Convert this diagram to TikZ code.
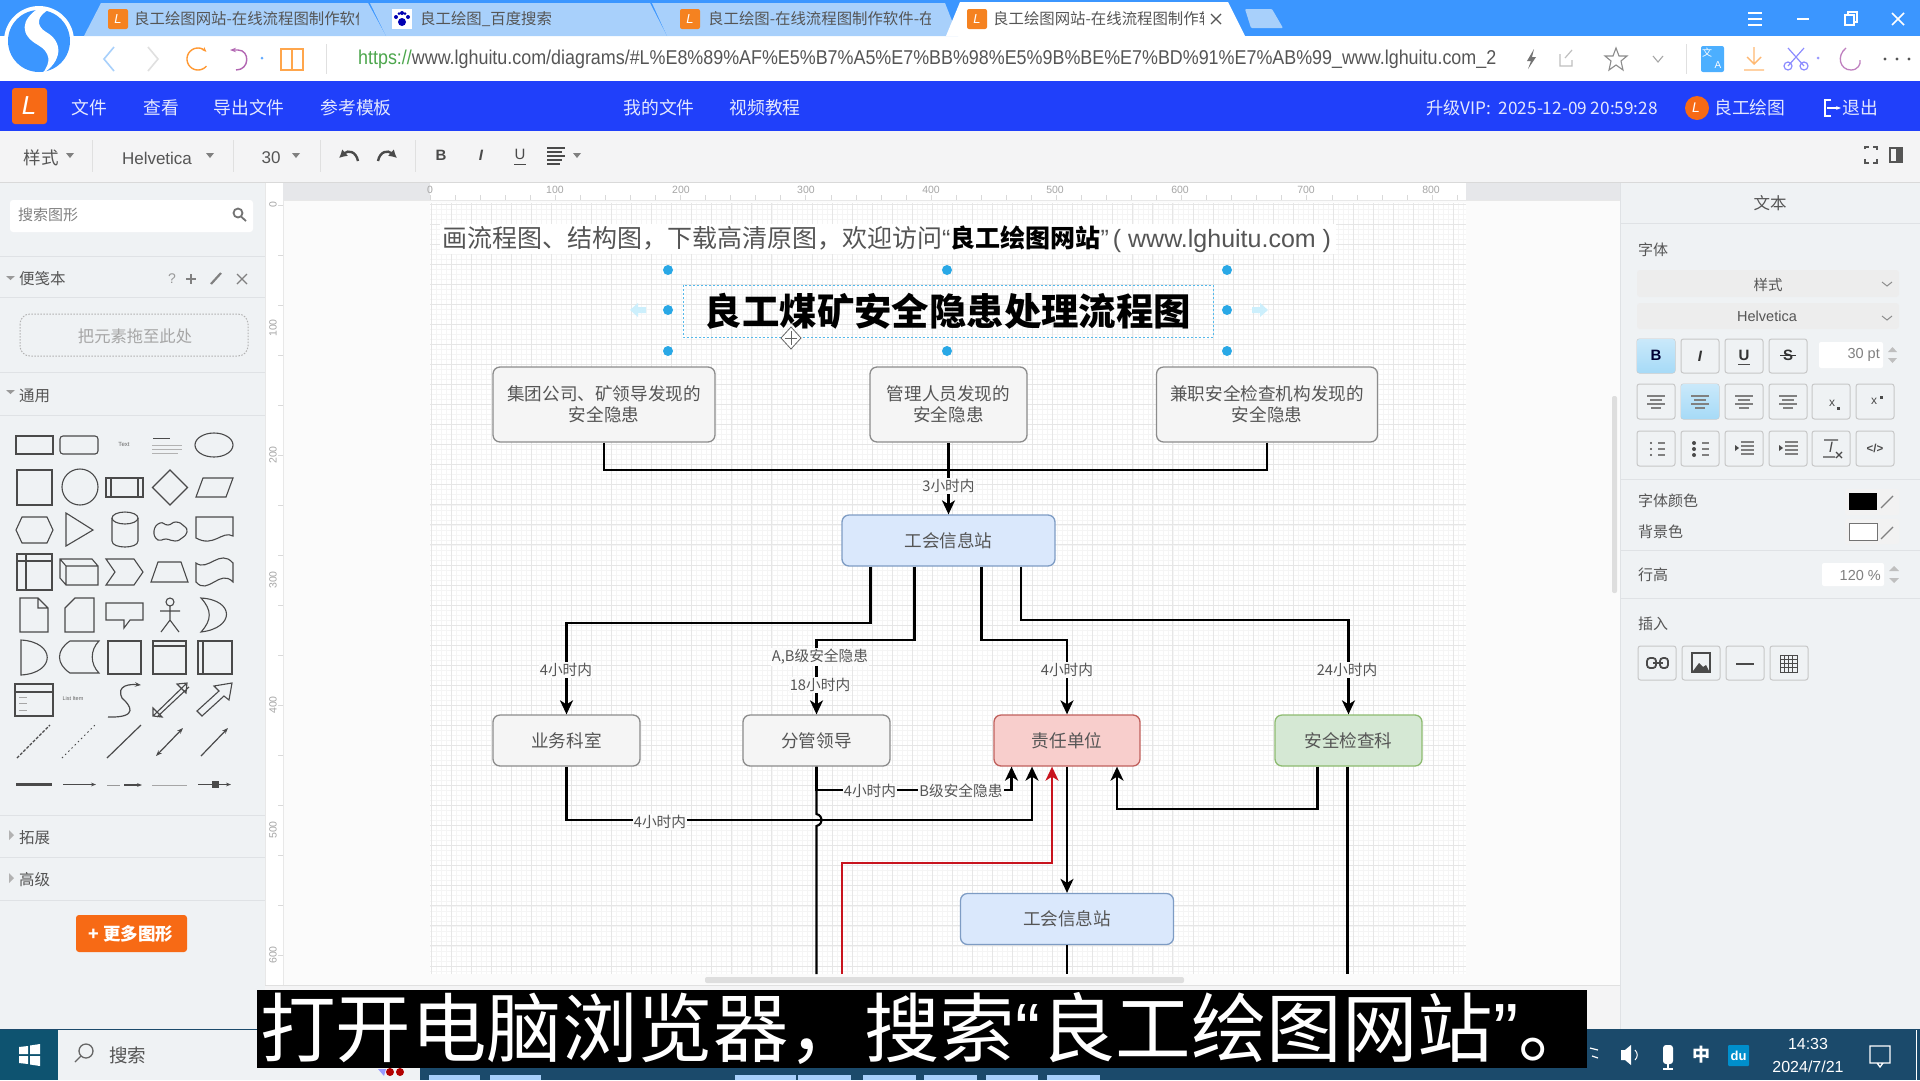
\documentclass[tikz,border=0pt]{standalone}
\usepackage{fontspec}
\setmainfont{Noto Sans CJK SC}
\newfontfamily\lat{Liberation Sans}
\usetikzlibrary{arrows.meta,shapes.geometric,calc}
\definecolor{panelbg}{HTML}{EFF2F4}
\definecolor{canvasbg}{HTML}{FBFBFB}
\definecolor{tabstrip}{HTML}{3B96FF}
\definecolor{tabfill}{HTML}{A8D0FB}
\definecolor{navblue}{HTML}{2040FA}
\definecolor{barbg}{HTML}{F4F4F5}
\definecolor{rulergray}{HTML}{E6E7EA}
\definecolor{uitext}{HTML}{555555}
\definecolor{sep}{HTML}{DFE2E5}
\definecolor{orangeui}{HTML}{F76A15}
\definecolor{logoorange}{HTML}{F58220}
\definecolor{taskbar}{HTML}{1B4A6B}
\definecolor{startbg}{HTML}{0E5370}
\definecolor{handle}{HTML}{29A8E6}
\definecolor{gridmajor}{HTML}{E6E6E6}
\definecolor{gridminor}{HTML}{F5F5F5}
\definecolor{btnblue}{HTML}{A6DAF7}
\definecolor{iconc}{HTML}{4A4A4A}
\definecolor{grayfill}{HTML}{F5F5F5}
\definecolor{grayline}{HTML}{8C8C8C}
\definecolor{bluefill}{HTML}{DAE8FC}
\definecolor{blueline}{HTML}{7E9CC4}
\definecolor{redfill}{HTML}{F8CECC}
\definecolor{redline}{HTML}{C0605C}
\definecolor{greenfill}{HTML}{D5E8D4}
\definecolor{greenline}{HTML}{8DBB70}
\definecolor{redarrow}{HTML}{C8141E}
\definecolor{boxtext}{HTML}{555555}
\newcount\uin
\newcommand\T[5][]{\global\advance\uin by 1 \node[inner sep=0pt,text=#4,#1] (ui\the\uin) at (#2) {\fontsize{#3}{#3}\selectfont #5};}
\tikzset{
 x=1pt,y=-1pt,
 ico/.style={draw=iconc,line width=1.1pt,fill=none},
 btn/.style={draw=black!22,fill=panelbg,rounded corners=2.5pt,line width=1pt},
 flowbox/.style={rectangle,rounded corners=7pt,line width=1.3pt,inner sep=0pt,align=center,text=boxtext,font=\fontsize{17.6}{21}\selectfont},
 graybox/.style={flowbox,draw=grayline,fill=grayfill},
 bluebox/.style={flowbox,draw=blueline,fill=bluefill},
 redbox/.style={flowbox,draw=redline,fill=redfill},
 greenbox/.style={flowbox,draw=greenline,fill=greenfill},
 flow/.style={line width=2.1pt,black},
 flowtip/.style={flow,-{Stealth[length=14pt,width=13pt,inset=4pt]}},
 edgelabel/.style={fill=canvasbg,inner sep=1pt,text=boxtext,font=\fontsize{14.7}{15}\selectfont},
 dot/.style={circle,fill=handle,inner sep=0pt,minimum size=10pt},
}
\begin{document}
\begin{tikzpicture}
\useasboundingbox (0,0) rectangle (1920,1080);
% --- base areas
\fill[white] (0,0) rectangle (1920,1080);
\fill[tabstrip] (0,0) rectangle (1920,36);
\fill[white] (0,36) rectangle (1920,80);
\fill[navblue] (0,81) rectangle (1920,131);
\fill[barbg] (0,131) rectangle (1920,183);
\fill[panelbg] (0,183) rectangle (265,1030);
\fill[panelbg] (1620,183) rectangle (1920,1030);
\fill[canvasbg] (265,183) rectangle (1620,1030);
\fill[barbg] (265,985) rectangle (1620,1030);
\draw[black!12,line width=1pt] (265,985) -- (1620,985);
\draw[black!15,line width=1pt] (0,182) -- (1920,182);
% --- tabs
\fill[tabfill] (84,36) -- (101,3) -- (368,3) -- (386,36) -- cycle;
\fill[tabfill] (386,36) -- (370,3) -- (650,3) -- (667,36) -- cycle;
\fill[tabfill] (667,36) -- (652,3) -- (945,3) -- (958,36) -- cycle;
\fill[white] (946,36) -- (960,2) -- (1228,2) -- (1245,36) -- cycle;
\fill[tabfill,rounded corners=1pt] (1245,9) -- (1272,9) -- (1283,28) -- (1251,28) -- cycle;
\foreach \ix in {118,690,977}{\fill[logoorange,rounded corners=2pt] (\ix-10,9) rectangle (\ix+10,29);
 \T{\ix,19}{13}{white}{\lat\itshape L}}
\fill[white] (392,9) rectangle (412,29);
\fill[blue!70!black] (402,22) circle (4pt) (396,17) circle (2pt) (402,13) circle (2pt) (408,17) circle (2pt) (399,13.5) circle (1.5pt) (405,13.5) circle (1.5pt);
\begin{scope}
\clip (134,5) rectangle (358,34);
\T[anchor=west]{134,19}{15.4}{uitext}{良工绘图网站-在线流程图制作软件}
\end{scope}
\T[anchor=west]{420,19}{15.4}{uitext}{良工绘图\_百度搜索}
\begin{scope}
\clip (708,5) rectangle (930,34);
\T[anchor=west]{708,19}{15.4}{uitext}{良工绘图-在线流程图制作软件-在}
\end{scope}
\begin{scope}
\clip (993,5) rectangle (1203,34);
\T[anchor=west]{993,19}{15.4}{uitext}{良工绘图网站-在线流程图制作软件}
\end{scope}
\draw[uitext,line width=1.3pt] (1211,14) -- (1221,24) (1221,14) -- (1211,24);
\draw[white,line width=1.6pt] (1748,13) -- (1762,13) (1748,19) -- (1762,19) (1748,25) -- (1762,25);
\draw[white,line width=1.6pt] (1797,19) -- (1809,19);
\draw[white,line width=1.4pt] (1845,15) rectangle (1854,25) (1848,15) -- (1848,12) -- (1857,12) -- (1857,22) -- (1854,22);
\draw[white,line width=1.5pt] (1892,13) -- (1904,25) (1904,13) -- (1892,25);
% --- browser logo
\fill[white] (39,41) circle (35pt);
\fill[tabstrip] (39,41) circle (31pt);
\fill[white] (39,8) .. controls (20,20) and (20,35) .. (38,45) .. controls (50,52) and (52,62) .. (42,74) .. controls (62,62) and (64,42) .. (46,32) .. controls (36,26) and (36,16) .. (50,9) -- cycle;
% --- browser toolbar
\draw[tabfill,line width=1.6pt] (114,47) -- (104,59) -- (114,71);
\draw[black!12,line width=1.6pt] (148,47) -- (158,59) -- (148,71);
\draw[orange!80,line width=1.4pt,-{Stealth[length=5pt]}] plot[domain=40:320,samples=30] ({198+11*cos(\x)},{59+11*sin(\x)});
\draw[violet!60,line width=1.4pt,{Stealth[length=6pt]}-] (230,50) -- (238,50) .. controls (250,50) and (250,70) .. (236,70);
\fill[tabstrip!80] (262,58) circle (1.5pt);
\draw[orange!70,line width=1.3pt] (281,49) rectangle (292,70) (292,49) rectangle (303,70);
\draw[black!12,line width=1pt] (326,44) -- (326,74);
\begin{scope}
\clip (358,40) rectangle (1499,78);
\T[anchor=west,xscale=.895]{358,59}{20}{uitext}{\lat\textcolor{green!50!black!70}{https://}www.lghuitu.com/diagrams/\#L\%E8\%89\%AF\%E5\%B7\%A5\%E7\%BB\%98\%E5\%9B\%BE\%E7\%BD\%91\%E7\%AB\%99\_www.lghuitu.com\_2}
\end{scope}
\fill[black!55] (1534,49) -- (1527,61) -- (1531,61) -- (1528,69) -- (1536,57) -- (1532,57) -- cycle;
\draw[black!25,line width=1.2pt] (1560,54) -- (1560,66) -- (1572,66) -- (1572,60) (1565,58) -- (1572,50);
\draw[black!45,line width=1.1pt] (1616,48) -- (1619,56) -- (1627,56) -- (1621,61) -- (1623,70) -- (1616,65) -- (1609,70) -- (1611,61) -- (1605,56) -- (1613,56) -- cycle;
\draw[black!35,line width=1.1pt] (1653,56) -- (1658,62) -- (1663,56);
\draw[black!12,line width=1pt] (1686,44) -- (1686,74);
\fill[blue!45!cyan!70,rounded corners=2pt] (1701,46) rectangle (1724,72);
\T{1707,53}{10}{white}{文}
\T{1718,65}{10}{white}{\lat A}
\draw[orange!55,line width=1.4pt] (1754,47) -- (1754,63) (1747,57) -- (1754,64) -- (1761,57) (1744,70) -- (1764,70);
\draw[blue!45,line width=1.2pt] (1788,48) -- (1804,66) (1804,48) -- (1788,66) (1788,66) circle (4pt) (1804,66) circle (4pt);
\fill[blue!40] (1818,58) circle (1.5pt);
\draw[violet!50,line width=1.3pt] (1846,48) .. controls (1836,56) and (1840,70) .. (1851,70) .. controls (1858,70) and (1861,64) .. (1860,60);
\fill[uitext] (1885,59) circle (1.6pt) (1897,59) circle (1.6pt) (1909,59) circle (1.6pt);
% --- nav bar
\fill[orangeui,rounded corners=3pt] (12,88) rectangle (47,124);
\T{29,106}{26}{white}{\lat\itshape L}
\T{89,108}{17.8}{white!88!navblue}{文件}
\T{161,108}{17.8}{white!88!navblue}{查看}
\T{249,108}{17.8}{white!88!navblue}{导出文件}
\T{356,108}{17.8}{white!88!navblue}{参考模板}
\T{659,108}{17.8}{white!88!navblue}{我的文件}
\T{765,108}{17.8}{white!88!navblue}{视频教程}
\T[anchor=east]{1658,108}{17.2}{white!88!navblue}{升级VIP:\ \ 2025-12-09 20:59:28}
\fill[orangeui] (1697,108) circle (12pt);
\T{1696,108}{14}{white}{\lat\itshape L}
\T[anchor=west]{1714,108}{17.8}{white!88!navblue}{良工绘图}
\draw[white,line width=1.3pt] (1831,100) -- (1825,100) -- (1825,116) -- (1831,116);
\draw[white,line width=1.3pt,-{Stealth[length=5pt]}] (1827,108) -- (1841,108);
\T[anchor=west]{1842,108}{17.8}{white!88!navblue}{退出}
% --- format toolbar
\T{41,158}{17.5}{uitext}{样式}
\T{157,158}{17}{uitext}{\lat Helvetica}
\T{271,158}{17}{uitext}{\lat 30}
\foreach \ix in {70,210,296,577}{\fill[black!50] (\ix-4,153) -- (\ix+4,153) -- (\ix,158) -- cycle;}
\foreach \ix in {92,233,320,415}{\draw[black!12,line width=1pt] (\ix,140) -- (\ix,172);}
\draw[iconc,line width=2.4pt,-{Latex[length=8pt,width=9pt]}] (358,161) .. controls (356,151) and (348,150) .. (339,158);
\draw[iconc,line width=2.4pt,-{Latex[length=8pt,width=9pt]}] (378,161) .. controls (380,151) and (388,150) .. (397,158);
\T{441,155}{15}{iconc}{\lat\bfseries B}
\T{481,155}{15}{iconc}{\lat\itshape\bfseries I}
\T{520,154}{15}{iconc}{\lat U}
\draw[iconc,line width=1pt] (514,164) -- (526,164);
\draw[iconc,line width=1.2pt] (547,148) -- (565,148) (547,152) -- (562,152) (547,156) -- (565,156) (547,160) -- (562,160) (547,164) -- (560,164);
\draw[uitext,line width=1.3pt] (1865,149) -- (1865,147) -- (1869,147) (1873,147) -- (1877,147) -- (1877,150) (1877,159) -- (1877,163) -- (1873,163) (1869,163) -- (1865,163) -- (1865,159);
\draw[uitext,line width=1.3pt] (1890,148) rectangle (1902,162);
\fill[uitext] (1896,148) rectangle (1902,162);
% --- rulers
\fill[rulergray] (283,183) rectangle (1620,200);
\fill[white] (430,183) rectangle (1466,200);
\fill[white] (265,183) rectangle (283,985);
\draw[black!9,line width=.8pt] (283,200) -- (1620,200) (283,200) -- (283,985) (265,183) -- (265,985);
\foreach \k in {0,1,...,41}{\draw[black!15,line width=.6pt] ({430+25.05*\k},195) -- ({430+25.05*\k},200);}
\foreach \k in {0,...,15}{\draw[black!15,line width=.6pt] (278,{205+50*\k}) -- (283,{205+50*\k});}
\foreach \v/\ix in {0/430,100/555,200/681,300/806,400/931,500/1055,600/1180,700/1306,800/1431}{\T{\ix,190}{10.5}{black!35}{\lat \v}}
\foreach \v/\iy in {0/205,100/328,200/455,300/580,400/705,500/830,600/955}{\T[rotate=90]{273,\iy}{10.5}{black!35}{\lat \v}}
% --- page + grid
\fill[white] (430,203) rectangle (1466,974);
\begin{scope}
\clip (430,203) rectangle (1466,974);
\foreach \k in {0,...,210}{\draw[gridminor,line width=.5pt] ({431+5.0125*\k},203) -- ({431+5.0125*\k},974);}
\foreach \k in {0,...,155}{\draw[gridminor,line width=.5pt] (430,{204+5.0125*\k}) -- (1466,{204+5.0125*\k});}
\foreach \k in {0,...,52}{\draw[gridmajor,line width=.8pt] ({431+20.05*\k},203) -- ({431+20.05*\k},974);}
\foreach \k in {0,...,39}{\draw[gridmajor,line width=.8pt] (430,{204+20.05*\k}) -- (1466,{204+20.05*\k});}
\end{scope}
\fill[black!13,rounded corners=2pt] (705,977) rectangle (1184,983);
\fill[black!13,rounded corners=2pt] (1612,396) rectangle (1617,593);
% --- banner text
\fill[white] (440,224) rectangle (1336,254);
\node[inner sep=0pt,anchor=west,text=boxtext] (banner) at (442,239) {\fontsize{25}{25}\selectfont 画流程图、结构图，下载高清原图，欢迎访问{\lat “}\textcolor{black}{\bfseries 良工绘图网站}{\lat ”\hspace{4pt}(\hspace{7pt}www.lghuitu.com\hspace{7pt})}};
% --- title + selection
\draw[handle!80,line width=1pt,dash pattern=on 2pt off 2pt] (683,285) rectangle (1213,337);
\node[inner sep=0pt,text=black] (title) at (948,311) {\fontsize{37.4}{38}\selectfont\bfseries 良工煤矿安全隐患处理流程图};
\foreach \ix/\nm in {668/a,947/b,1227/c}{\foreach \iy/\mm in {270/t,310/m,351/b}{\ifnum\ix=947 \ifnum\iy=310 \else \node[dot] (h\nm\mm) at (\ix,\iy) {}; \fi \else \node[dot] (h\nm\mm) at (\ix,\iy) {}; \fi}}
\fill[cyan!20] (630,310) -- (638,303) -- (638,307) -- (646,307) -- (646,313) -- (638,313) -- (638,317) -- cycle;
\fill[cyan!20] (1268,310) -- (1260,303) -- (1260,307) -- (1252,307) -- (1252,313) -- (1260,313) -- (1260,317) -- cycle;
\draw[black!60,fill=white,line width=.8pt] (791,327) -- (801,338) -- (791,349) -- (781,338) -- cycle;
\draw[black!60,line width=.8pt] (791,331) -- (791,345) (785,338) -- (797,338);
% --- flowchart nodes
\node[graybox,minimum width=222pt,minimum height=75pt] (b1) at (604,404.5) {集团公司、矿领导发现的\\安全隐患};
\node[graybox,minimum width=157pt,minimum height=75pt] (b2) at (948.5,404.5) {管理人员发现的\\安全隐患};
\node[graybox,minimum width=221pt,minimum height=75pt] (b3) at (1267,404.5) {兼职安全检查机构发现的\\安全隐患};
\node[bluebox,minimum width=213pt,minimum height=51pt] (info1) at (948.5,540.5) {工会信息站};
\node[graybox,minimum width=147pt,minimum height=51pt] (dept) at (566.5,740.5) {业务科室};
\node[graybox,minimum width=147pt,minimum height=51pt] (lead) at (816.5,740.5) {分管领导};
\node[redbox,minimum width=146pt,minimum height=51pt] (resp) at (1067,740.5) {责任单位};
\node[greenbox,minimum width=147pt,minimum height=51pt] (safe) at (1348.5,740.5) {安全检查科};
\node[bluebox,minimum width=213pt,minimum height=51pt] (info2) at (1067,919) {工会信息站};
% --- connector waypoints
\coordinate (j1) at (948.5,470);
\coordinate (c1) at (870.5,623);
\coordinate (c2) at (914.5,640);
\coordinate (c3) at (981.5,640);
\coordinate (c4) at (1021,620);
\coordinate (xa) at (1011.5,790);
\coordinate (xb) at (1032,820);
\coordinate (xc) at (1052,863);
\coordinate (xd) at (1117,809);
\coordinate (xe) at (1317.5,809);
\coordinate (e1) at (816.5,974);
\coordinate (e2) at (842,974);
\coordinate (e3) at (1067,974);
\coordinate (e4) at (1347.5,974);
\coordinate (ja) at (816.5,814);
\coordinate (jb) at (816.5,826);
% --- connectors
\draw[flow] (b1.south) |- (j1);
\draw[flow] (b3.south) |- (j1);
\draw[flow] (b2.south) -- (j1);
\draw[flowtip] (j1) -- (info1.north);
\draw[flowtip] (info1.south -| c1) -- (c1) -| (dept.north);
\draw[flowtip] (info1.south -| c2) -- (c2) -| (lead.north);
\draw[flowtip] (info1.south -| c3) -- (c3) -| (resp.north);
\draw[flowtip] (info1.south -| c4) -- (c4) -| (safe.north);
\draw[flowtip] (lead.south) |- (xa) -- (resp.south -| xa);
\draw[flowtip] (dept.south) |- (xb) -- (resp.south -| xb);
\draw[flow] (lead.south) -- (ja) .. controls ($(ja)+(7,2)$) and ($(jb)+(7,-2)$) .. (jb) -- (e1);
\draw[flowtip,redarrow] (e2) |- (xc) -- (resp.south -| xc);
\draw[flowtip] (resp.south) -- (info2.north);
\draw[flow] (info2.south) -- (e3);
\draw[flow] (safe.south -| e4) -- (e4);
\draw[flowtip] (safe.south -| xe) -- (xe) -| (resp.south -| xd);
% --- connector labels
\node[edgelabel] (l0) at (948.5,486) {3小时内};
\node[edgelabel] (l1) at (566,670) {4小时内};
\node[edgelabel] (l2) at (820,657) {A,B级安全隐患};
\node[edgelabel] (l3) at (820,685) {18小时内};
\node[edgelabel] (l4) at (1067,670) {4小时内};
\node[edgelabel] (l5) at (1347,670) {24小时内};
\node[edgelabel] (l6) at (870,791) {4小时内};
\node[edgelabel] (l7) at (961,791) {B级安全隐患};
\node[edgelabel] (l8) at (660,822) {4小时内};
% --- left panel
\fill[white,rounded corners=3pt] (10,200) rectangle (253,232);
\T[anchor=west]{18,215}{15}{black!50}{搜索图形}
\draw[black!55,line width=1.8pt] (238,213) circle (4.5pt) (241.5,217) -- (246,221);
\foreach \iy in {256,297,372,415,815,857,900}{\draw[sep,line width=1pt] (0,\iy) -- (265,\iy);}
\foreach \iy in {278,392}{\fill[black!40] (6,\iy-2) -- (15,\iy-2) -- (10.5,\iy+2) -- cycle;}
\foreach \iy in {835,878}{\fill[black!30] (9,\iy-5) -- (14,\iy) -- (9,\iy+5) -- cycle;}
\T[anchor=west]{19,279}{15.5}{uitext}{便笺本}
\T{172,279}{14}{black!40}{\lat ?}
\draw[black!50,line width=1.2pt] (186,279) -- (196,279) (191,274) -- (191,284);
\draw[black!50,line width=2.2pt] (211,284) -- (221,273);
\draw[black!50,line width=1.3pt] (237,274) -- (247,284) (247,274) -- (237,284);
\draw[black!30,rounded corners=10pt,line width=1pt,dash pattern=on 1.5pt off 1.5pt] (20,314) rectangle (248,356);
\T{135,336}{16.3}{black!35}{把元素拖至此处}
\T[anchor=west]{19,396}{15.5}{uitext}{通用}
\T[anchor=west]{19,838}{15.5}{uitext}{拓展}
\T[anchor=west]{19,880}{15.5}{uitext}{高级}
\fill[orangeui,rounded corners=3pt] (76,915) rectangle (187,952);
\T{131,933.5}{17.5}{white}{\bfseries +\ 更多图形}
% shapes
\draw[ico] (16,436) rectangle (53,454);
\draw[ico,rounded corners=3pt] (60,436) rectangle (98,454);
\T{124,444}{6}{black!60}{\lat Text}
\draw[iconc,line width=1pt] (153,438) -- (170,438);
\draw[black!30,line width=.8pt] (152,445) -- (182,445) (152,449) -- (182,449) (152,453) -- (178,453);
\draw[ico] (214,445) ellipse [x radius=19pt,y radius=12pt];
\draw[ico] (17,470) rectangle (52,505);
\draw[ico] (80,487) circle (18pt);
\draw[ico] (106,478) rectangle (143,497) (111,478) -- (111,497) (138,478) -- (138,497);
\draw[ico] (170,470) -- (187.5,487.5) -- (170,505) -- (152.5,487.5) -- cycle;
\draw[ico] (203,478) -- (233,478) -- (226,497) -- (196,497) -- cycle;
\draw[ico] (22,517) -- (47,517) -- (53,530) -- (47,543) -- (22,543) -- (16,530) -- cycle;
\draw[ico] (66,513) -- (93,530) -- (66,546) -- cycle;
\draw[ico] (112,518) -- (112,541) .. controls (112,549) and (138,549) .. (138,541) -- (138,518);
\draw[ico] (125,518) ellipse [x radius=13pt,y radius=6pt];
\draw[ico] plot[smooth cycle,tension=.9] coordinates {(154,531) (160,523) (168,525) (176,522) (184,526) (187,532) (182,538) (175,541) (166,539) (158,540)};
\draw[ico] (196,517) -- (233,517) -- (233,536) .. controls (222,530) and (214,548) .. (196,538) -- cycle;
\draw[ico] (17,554) rectangle (52,590) (17,561) -- (52,561) (26,554) -- (26,590);
\draw[ico] (60,559) -- (92,559) -- (98,566) -- (98,585) -- (66,585) -- (60,578) -- cycle (60,559) -- (66,566) -- (98,566) (66,566) -- (66,585);
\draw[ico] (106,559) -- (134,559) -- (143,572) -- (134,585) -- (106,585) -- (115,572) -- cycle;
\draw[ico] (158,562) -- (181,562) -- (188,582) -- (151,582) -- cycle;
\draw[ico] (196,563) .. controls (208,572) and (220,548) .. (233,563) -- (233,582) .. controls (220,568) and (208,596) .. (196,582) -- cycle;
\draw[ico] (20,598) -- (38,598) -- (48,608) -- (48,632) -- (20,632) -- cycle (38,598) -- (38,608) -- (48,608);
\draw[ico] (75,598) -- (94,598) -- (94,632) -- (65,632) -- (65,608) -- cycle;
\draw[ico] (106,603) -- (143,603) -- (143,620) -- (130,620) -- (124,628) -- (124,620) -- (106,620) -- cycle;
\draw[ico] (170,602) circle (4pt) (170,606) -- (170,620) (160,611) -- (180,611) (170,620) -- (161,632) (170,620) -- (179,632);
\draw[ico] (201,598) .. controls (235,600) and (235,628) .. (201,632) .. controls (212,620) and (212,610) .. (201,598) -- cycle;
\draw[ico] (21,640) .. controls (56,642) and (56,673) .. (21,675) -- cycle;
\draw[ico] (70,641) -- (99,641) .. controls (90,650) and (90,664) .. (99,673) -- (70,673) .. controls (56,664) and (56,650) .. (70,641) -- cycle;
\draw[ico] (108,641) rectangle (141,674);
\draw[ico] (153,641) rectangle (186,674) (153,646) -- (186,646);
\draw[ico] (198,641) rectangle (232,674) (203,641) -- (203,674);
\draw[ico] (15,684) rectangle (53,716) (15,692) -- (53,692);
\draw[black!35,line width=.7pt] (19,697) -- (27,697) (19,703) -- (27,703) (19,710) -- (27,710);
\T{73,699}{5.5}{black!60}{\lat List Item}
\draw[iconc,line width=1.2pt,-{Stealth[length=6pt]}] (108,717) .. controls (140,718) and (130,705) .. (122,698) .. controls (116,685) and (130,684) .. (141,685);
\draw[ico] (153,716) -- (186,684) (157,717) -- (189,687) (153,716) -- (153,708) -- (162,717) -- cycle (187,683) -- (177,684) -- (186,693) -- cycle;
\draw[ico] (197,711) -- (219,691) -- (214,686) -- (232,683) -- (229,700) -- (224,696) -- (202,716) -- cycle;
\draw[iconc,line width=1.2pt,dash pattern=on 3pt off 1.5pt] (17,758) -- (50,725);
\draw[iconc,line width=1pt,dash pattern=on 1.5pt off 3pt] (62,758) -- (95,725);
\draw[iconc,line width=1.2pt] (107,758) -- (141,725);
\draw[iconc,line width=1.2pt,{Stealth[length=6pt]}-{Stealth[length=6pt]}] (156,756) -- (183,728);
\draw[iconc,line width=1.2pt,-{Stealth[length=6pt]}] (201,756) -- (228,728);
\draw[iconc,line width=2.2pt] (16,784.5) -- (52,784.5);
\draw[iconc,line width=1.2pt,-{Stealth[length=5pt]}] (63,784.5) -- (96,784.5);
\draw[black!40,line width=1pt] (107,785) -- (120,785);
\draw[iconc,line width=1.2pt,-{Stealth[length=5pt]}] (124,785) -- (142,785);
\draw[black!35,line width=1pt] (152,785) -- (187,785);
\draw[iconc,line width=1.2pt,-{Stealth[length=5pt]}] (198,784.5) -- (231,784.5);
\fill[iconc] (212,781) rectangle (219,788);
% --- right panel
\T{1770,203}{16.5}{uitext}{文本}
\draw[sep,line width=1pt] (1620,183) -- (1620,1030) (1620,223) -- (1920,223) (1620,479) -- (1920,479) (1620,550) -- (1920,550) (1620,598) -- (1920,598);
\T[anchor=west]{1638,250}{15}{uitext}{字体}
\T[anchor=west]{1638,501}{15}{uitext}{字体颜色}
\T[anchor=west]{1638,532}{15}{uitext}{背景色}
\T[anchor=west]{1638,575}{15}{uitext}{行高}
\T[anchor=west]{1638,624}{15}{uitext}{插入}
\fill[black!7,rounded corners=3pt] (1637,270) rectangle (1899,297);
\fill[black!7,rounded corners=3pt] (1637,303) rectangle (1899,329);
\T{1768,285}{14.5}{uitext}{样式}
\T{1767,316}{14.5}{uitext}{\lat Helvetica}
\foreach \iy in {282,316}{\draw[black!45,line width=1pt] (1882,\iy) -- (1887,\iy+4) -- (1892,\iy);}
% button rows
\foreach \ix in {1637,1681,1725,1769}{\draw[btn] (\ix,339) rectangle +(38,34);}
\shade[top color=btnblue!60,bottom color=btnblue,rounded corners=2.5pt] (1637,339) rectangle +(38,34);
\foreach \ix in {1637,1681,1725,1769,1812,1856}{\draw[btn] (\ix,384) rectangle +(38,35);\draw[btn] (\ix,431) rectangle +(38,35);}
\shade[top color=btnblue!60,bottom color=btnblue,rounded corners=2.5pt] (1681,384) rectangle +(38,35);
\T{1656,355}{15}{black!80!blue}{\lat\bfseries B}
\T{1700,356}{15}{black!80}{\lat\bfseries\itshape I}
\T{1744,355}{15}{black!80}{\lat\bfseries U}
\draw[black!70,line width=1pt] (1738,364) -- (1750,364);
\T{1788,355}{15}{black!80}{\lat\bfseries S}
\draw[black!80,line width=1pt] (1780,355) -- (1796,355);
\fill[white,rounded corners=2pt] (1819,342) rectangle (1883,368);
\T[anchor=east]{1880,355}{14.5}{black!50}{\lat 30 pt}
\fill[black!25] (1892.5,347) -- (1888,352) -- (1897,352) -- cycle (1892.5,363) -- (1888,358) -- (1897,358) -- cycle;
\foreach \ix/\a/\b in {1656/-9/6,1700/-9/9,1744/-4/9,1788/-9/9}{\foreach \iy/\w in {396/9,400/6,404/9,408/5}{\draw[iconc!70,line width=1.6pt] (\ix-\w,\iy) -- (\ix+\w,\iy);}}
\T{1832,403}{12}{iconc}{\lat x}
\fill[iconc] (1837,407) rectangle (1840,410);
\T{1874,401}{12}{iconc}{\lat x}
\fill[iconc] (1880,396) rectangle (1883,399);
% list row
\draw[iconc!70,line width=1.3pt] (1658,443) -- (1665,443) (1658,449) -- (1665,449) (1658,455) -- (1665,455);
\fill[iconc] (1651,443) circle (1.2pt) (1651,449) circle (1.2pt) (1651,455) circle (1.2pt);
\draw[iconc!70,line width=1.3pt] (1702,443) -- (1709,443) (1702,449) -- (1709,449) (1702,455) -- (1709,455);
\fill[iconc] (1694,443) circle (2pt) (1694,449) circle (2pt) (1694,455) circle (2pt);
\foreach \ix in {1744,1788}{\foreach \iy in {442,446,450,454}{\draw[iconc!70,line width=1.3pt] (\ix-3,\iy) -- (\ix+10,\iy);}\fill[iconc] (\ix-9,445) -- (\ix-5,448) -- (\ix-9,451) -- cycle;}
\T{1831,447}{15}{iconc}{\lat\itshape I}
\draw[iconc,line width=1.3pt] (1824,440) -- (1838,440) (1823,457) -- (1835,457) (1836,452) -- (1842,458) (1842,452) -- (1836,458);
\T{1875,448}{11.5}{iconc}{\lat\bfseries </>}
% colours
\fill[black!5,rounded corners=2pt] (1845,489) rectangle (1899,515);
\fill[black!5,rounded corners=2pt] (1845,519) rectangle (1899,544);
\fill[black] (1849,493) rectangle (1877,510);
\draw[black!55,fill=white,line width=.8pt] (1849,523) rectangle (1877,540);
\foreach \iy in {501,532}{\draw[black!50,line width=1.3pt] (1881,\iy+7) -- (1893,\iy-5);}
\fill[white,rounded corners=2pt] (1822,563) rectangle (1884,586);
\T[anchor=east]{1881,575}{14.5}{black!50}{\lat 120 \%}
\fill[black!25] (1894,566) -- (1889,571) -- (1899,571) -- cycle (1894,583) -- (1889,578) -- (1899,578) -- cycle;
\foreach \ix in {1638,1682,1726,1770}{\draw[btn] (\ix,646) rectangle +(38,34);}
\draw[iconc,line width=1.8pt,rounded corners=3pt] (1647,658) rectangle (1656,668) (1660,658) rectangle (1668,668);
\draw[iconc,line width=1.5pt] (1653,663) -- (1663,663);
\draw[iconc,line width=1.3pt] (1692,653) rectangle (1710,672);
\fill[iconc] (1693,671) -- (1699,663) -- (1703,667) -- (1706,665) -- (1709,671) -- cycle;
\draw[iconc,line width=1.3pt] (1736,664) -- (1754,664);
\draw[iconc,line width=1pt] (1780,655) rectangle (1797,672) (1780,659) -- (1797,659) (1780,663.3) -- (1797,663.3) (1780,667.6) -- (1797,667.6) (1784.2,655) -- (1784.2,672) (1788.5,655) -- (1788.5,672) (1792.8,655) -- (1792.8,672);
% --- taskbar
\fill[taskbar] (0,1029) rectangle (1920,1080);
\fill[startbg] (0,1030) rectangle (58,1080);
\fill[panelbg] (58,1030) rectangle (420,1080);
\fill[white] (19,1047) -- (28,1046) -- (28,1054) -- (19,1054) -- cycle (30,1045.5) -- (40,1044) -- (40,1054) -- (30,1054) -- cycle (19,1056) -- (28,1056) -- (28,1064) -- (19,1063) -- cycle (30,1056) -- (40,1056) -- (40,1066) -- (30,1064.5) -- cycle;
\draw[black!60,line width=1.3pt] (86,1051) circle (7pt) (81,1056) -- (75,1062);
\T[anchor=west]{109,1055}{18.5}{uitext}{搜索}
\fill[red!70!black] (390,1072) circle (4pt) (400,1072) circle (4pt);
\fill[blue!40] (378,1069) -- (386,1069) -- (384,1076) -- cycle;
\foreach \a/\b in {429/480,490/541,735/796,798/851,863/916,924/977,986/1038,1047/1100}{\fill[tabfill] (\a,1075) rectangle (\b,1080);}
\draw[white!75,line width=1.2pt] (1590,1048) -- (1598,1050) (1592,1056) -- (1598,1058);
\fill[white!80] (1621,1050) rectangle (1625,1060) -- (1631,1065) -- (1631,1045) -- (1625,1050) -- cycle;
\draw[white!70,line width=1pt] (1635,1050) .. controls (1638,1053) and (1638,1057) .. (1635,1060);
\fill[white!85,rounded corners=3pt] (1663,1045) rectangle (1673,1064);
\draw[white!85,line width=1.3pt] (1668,1064) -- (1668,1069) (1663,1069) -- (1673,1069);
\T{1701,1055}{18}{white}{\bfseries 中}
\fill[blue!30!cyan!80!black,rounded corners=1pt] (1728,1045) rectangle (1749,1066);
\T{1738.5,1055.5}{13}{white}{\lat\bfseries du}
\T{1808,1044}{16}{white!85}{\lat 14:33}
\T{1808,1067}{16}{white!85}{\lat 2024/7/21}
\draw[white!85,line width=1.3pt] (1870,1046) rectangle (1890,1063) (1877,1063) -- (1880,1067) -- (1883,1063);
\draw[white!30,line width=.8pt] (1916,1030) -- (1916,1080);
% --- subtitle
\fill[black] (257,990) rectangle (1587,1068);
\node[inner sep=0pt,anchor=west,text=white] (caption) at (260,1028) {\fontsize{75.5}{75}\selectfont 打开电脑浏览器，搜索{\lat “}良工绘图网站{\lat ”}。};
\end{tikzpicture}
\end{document}
